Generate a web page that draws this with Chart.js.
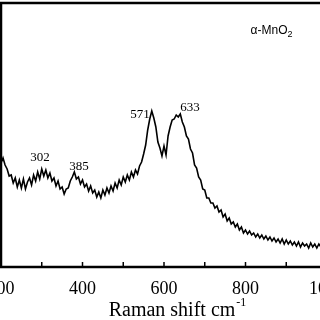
<!DOCTYPE html>
<html>
<head>
<meta charset="utf-8">
<script src="https://cdn.jsdelivr.net/npm/chart.js@4"></script>
<style>
  html, body { margin: 0; padding: 0; background: #fff; overflow: hidden; }
  #wrap { position: absolute; left: -40px; top: 0; width: 400px; height: 320px; }
</style>
</head>
<body>
<div id="wrap"><canvas id="ramanChart"></canvas></div>
<script>
// Raman shift (cm-1)
const shift = [200,205,210,215,220,225,230,235,240,245,250,255,260,265,270,275,280,285,290,295,
  300,305,310,315,320,325,330,335,340,345,350,355,360,365,370,375,380,385,390,395,
  400,405,410,415,420,425,430,435,440,445,450,455,460,465,470,475,480,485,490,495,
  500,505,510,515,520,525,530,535,540,545,550,555,560,565,570,575,580,585,590,595,
  600,605,610,615,620,625,630,635,640,645,650,655,660,665,670,675,680,685,690,695,
  700,705,710,715,720,725,730,735,740,745,750,755,760,765,770,775,780,785,790,795,
  800,805,810,815,820,825,830,835,840,845,850,855,860,865,870,875,880,885,890,895,
  900,905,910,915,920,925,930,935,940,945,950,955,960,965,970,975,980,985,990,995,1000];
// intensity (a.u.)
const intensity = [104,109,102,98,91,92,84,89,80,87,79,88,78,85,89,82,92,86,95,88,
  98,91,97,89,94,86,89,81,86,78,80,73,78,79,86,90,95,88,90,83,
  87,80,83,76,81,74,77,70,75,69,77,72,79,74,81,76,84,79,87,82,
  90,85,92,87,95,90,97,93,101,105,113,122,137,148,156,149,140,125,119,111,
  121,112,131,140,147,148,152,150,153,145,140,131,128,118,114,102,99,90,87,78,
  77,69,69,64,64,59,61,55,57,50,53,46,49,43,45,40,43,37,40,34,
  37,33,36,32,34,30,33,29,32,28,31,27,30,26,29,25,28,24,28,23,
  27,23,26,22,25,21,25,20,24,21,23,19,24,20,23,19,23,20,24,20,22];
const xTicks = [200, 400, 600, 800, 1000];
const xMinor = [300, 500, 700, 900];
const peakLabels = ['302', '385', '571', '633'];
const sampleName = 'α-MnO';

const decor = {
  id: 'decor',
  afterDraw(chart) {
    const c = chart.ctx, a = chart.chartArea, xs = chart.scales.x;
    c.save();
    c.strokeStyle = '#000';
    c.lineWidth = 2.5;
    c.strokeRect(a.left, a.top, a.right - a.left, a.bottom - a.top);
    c.lineWidth = 1.5;
    xTicks.concat(xMinor).forEach(v => {
      const px = xs.getPixelForValue(v);
      c.beginPath();
      c.moveTo(px, a.bottom);
      c.lineTo(px, a.bottom - 5);
      c.stroke();
    });
    c.fillStyle = '#000';
    c.textAlign = 'center';
    c.textBaseline = 'alphabetic';
    c.font = '13px "Liberation Serif"';
    const pos = [[80, 161], [119, 170], [180, 118], [230, 111]];
    peakLabels.forEach((t, i) => c.fillText(t, pos[i][0], pos[i][1]));
    // axis title with superscript
    c.font = '20px "Liberation Serif"';
    c.textAlign = 'left';
    const title = 'Raman shift cm';
    const tw = c.measureText(title).width;
    const tx = 217 - (tw + 10) / 2;
    c.fillText(title, tx, 316);
    c.font = '12px "Liberation Serif"';
    c.fillText('-1', tx + tw + 1, 306);
    // sample name
    c.font = '12px "Liberation Sans"';
    const nw = c.measureText(sampleName).width;
    c.fillText(sampleName, 309 - nw / 2, 34);
    c.font = '9px "Liberation Sans"';
    c.fillText('2', 309 + nw / 2, 37);
    c.restore();
  }
};

const ctx = document.getElementById('ramanChart').getContext('2d');
const ramanChart = new Chart(ctx, {
  type: 'line',
  data: {
    datasets: [{
      data: shift.map((x, i) => ({ x: x, y: intensity[i] })),
      borderColor: '#000',
      borderWidth: 1.6,
      pointRadius: 0,
      tension: 0,
      fill: false
    }]
  },
  options: {
    responsive: true,
    maintainAspectRatio: false,
    animation: false,
    layout: { padding: { top: 3, right: 33, left: 0, bottom: 0 } },
    plugins: { legend: { display: false }, tooltip: { enabled: false } },
    scales: {
      x: {
        type: 'linear',
        min: 200,
        max: 1000,
        afterBuildTicks: s => { s.ticks = xTicks.map(v => ({ value: v })); },
        afterFit: s => { s.height = 53; },
        grid: { display: false, drawTicks: false },
        border: { display: false },
        ticks: {
          color: '#000',
          padding: 11,
          maxRotation: 0,
          callback: v => String(v),
          font: { family: 'Liberation Serif', size: 18 }
        }
      },
      y: {
        min: 0,
        max: 264,
        afterFit: s => { s.width = 41; },
        grid: { display: false, drawTicks: false },
        border: { display: false },
        ticks: { display: false }
      }
    }
  },
  plugins: [decor]
});
</script>
</body>
</html>
